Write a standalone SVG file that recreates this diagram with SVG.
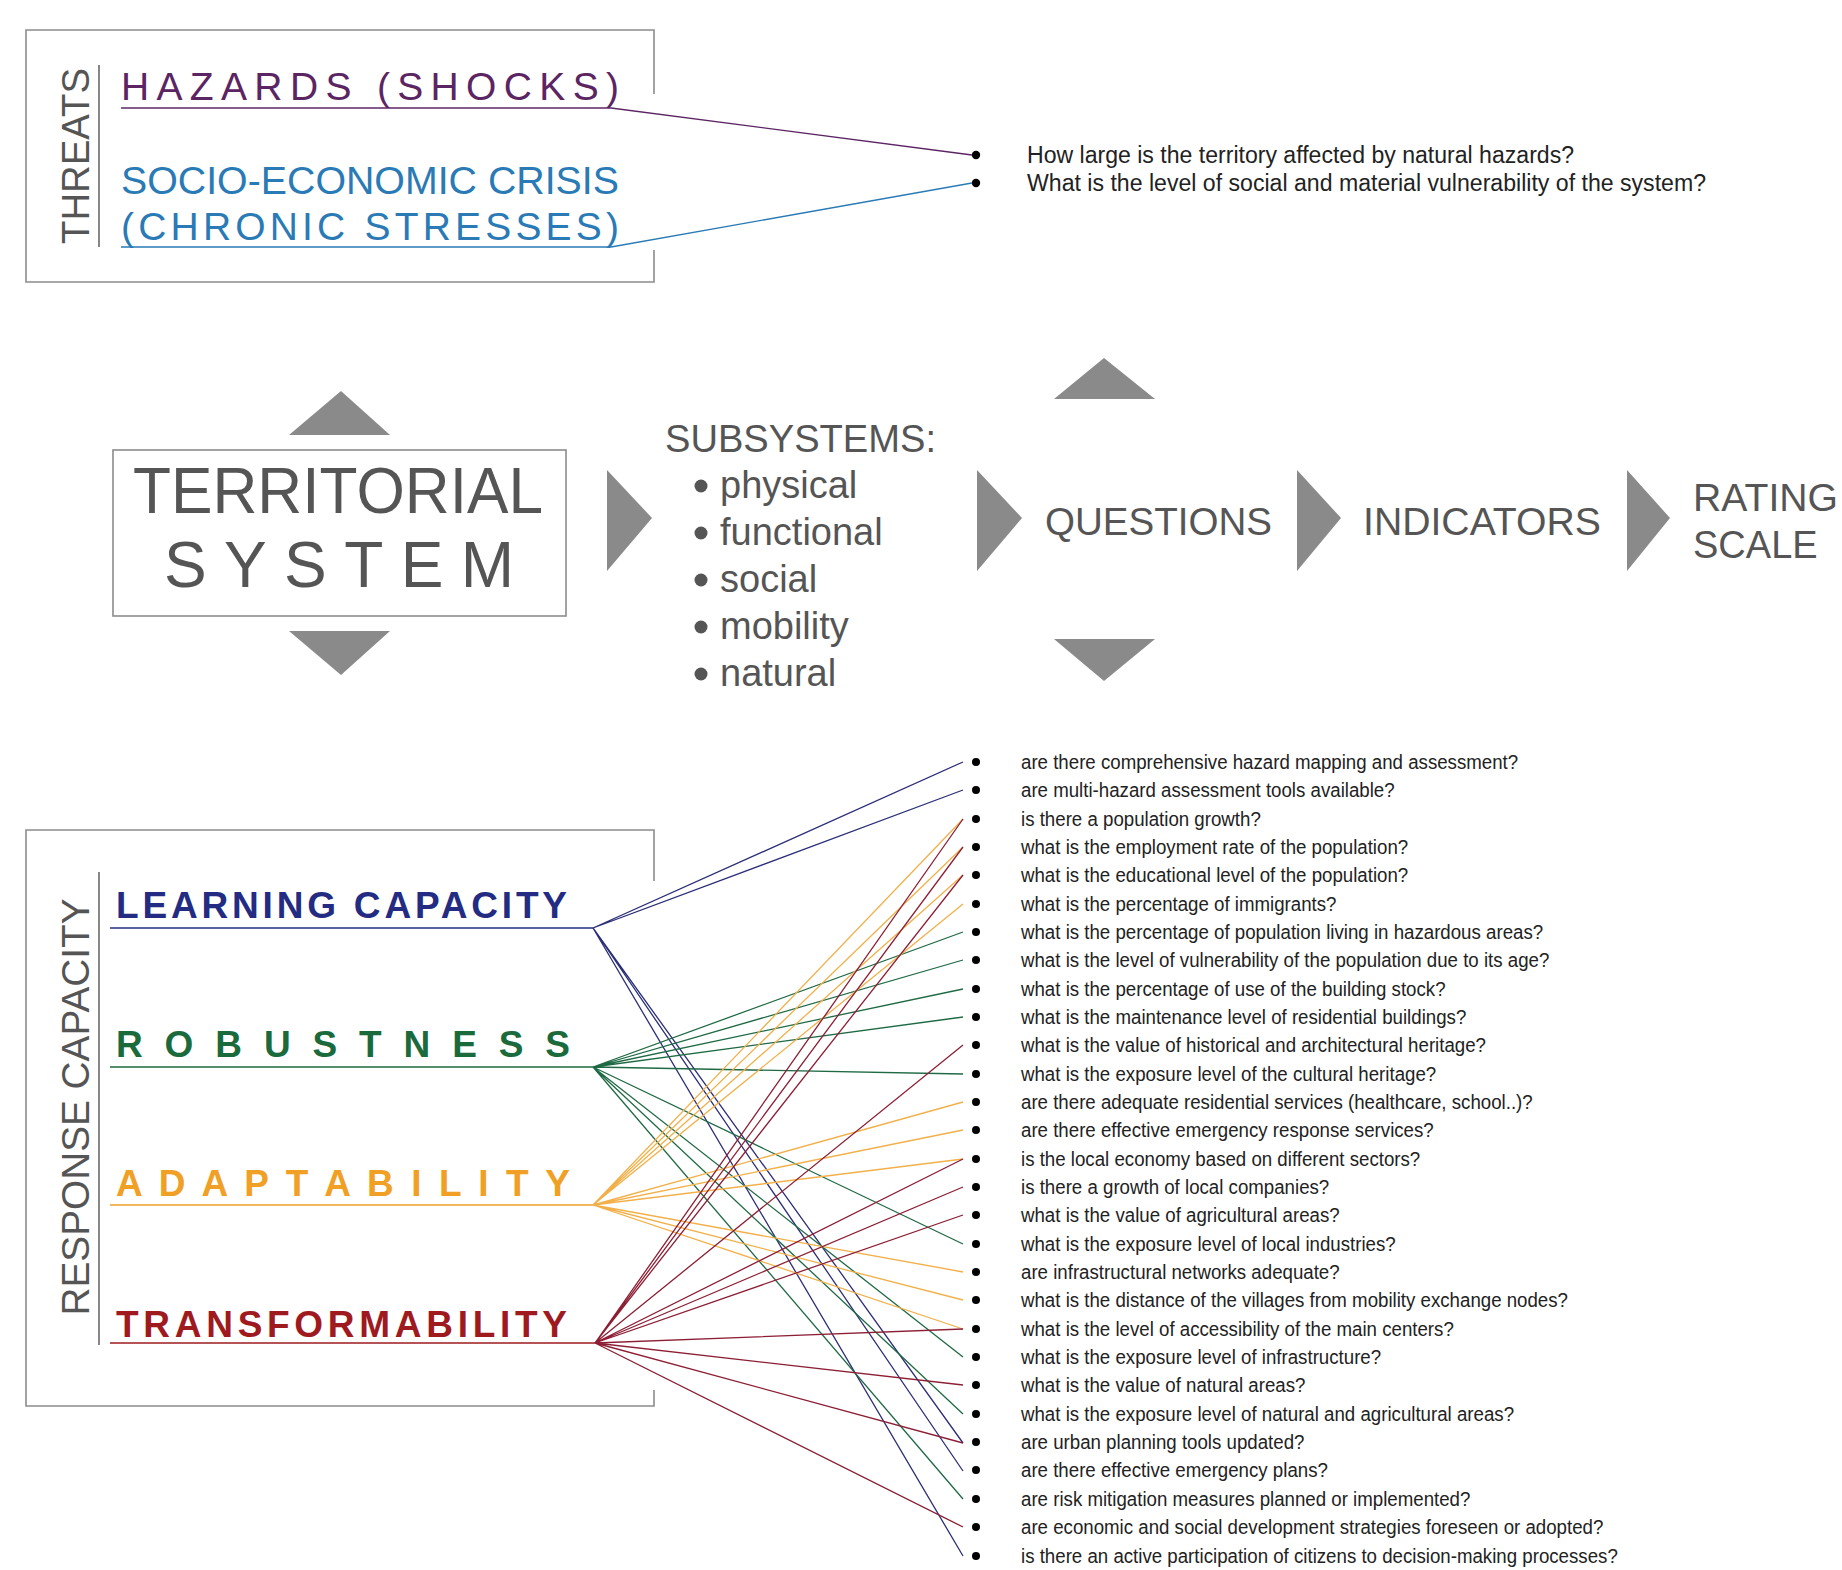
<svg xmlns="http://www.w3.org/2000/svg" width="1842" height="1570" viewBox="0 0 1842 1570">
<style>
.box{fill:none;stroke:#8c8c8c;stroke-width:1.6}
.sep{stroke:#555;stroke-width:1.4}
.tri{fill:#8a8a8a}
.gray{font-family:"Liberation Sans",Arial,sans-serif;fill:#555}
.big{font-family:"Liberation Sans",Arial,sans-serif;font-size:38px;fill:#555}
.q{font-family:"Liberation Sans",Arial,sans-serif;font-size:21px;fill:#222}
.tq{font-family:"Liberation Sans",Arial,sans-serif;font-size:23px;fill:#222}
.cap{font-family:"Liberation Sans",Arial,sans-serif;font-size:37px;font-weight:bold}
.dot{fill:#000}
.cL{stroke:#2c2f78;stroke-width:1.3;fill:none}
.cR{stroke:#1f6a45;stroke-width:1.3;fill:none}
.cA{stroke:#f2b04a;stroke-width:1.3;fill:none}
.cT{stroke:#8c1f35;stroke-width:1.3;fill:none}
</style>
<rect width="1842" height="1570" fill="#fff"/>

<g id="threats">
  <path class="box" d="M654,94 V30 H26 V282 H654 V250"/>
  <line class="sep" x1="99" y1="65" x2="99" y2="247"/>
  <text class="big" transform="translate(89,156) rotate(-90)" text-anchor="middle" textLength="176" lengthAdjust="spacingAndGlyphs">THREATS</text>
</g>
<g id="hazards">
  <text x="121" y="100" font-family="Liberation Sans,Arial,sans-serif" font-size="39" fill="#5b2463" textLength="498" lengthAdjust="spacing">HAZARDS (SHOCKS)</text>
  <line x1="121" y1="108" x2="611" y2="108" stroke="#5b2463" stroke-width="1.4"/>
</g>
<g id="socio">
  <text x="121" y="194" font-family="Liberation Sans,Arial,sans-serif" font-size="39" fill="#2a7ab6" textLength="498" lengthAdjust="spacingAndGlyphs">SOCIO-ECONOMIC CRISIS</text>
  <text x="121" y="240" font-family="Liberation Sans,Arial,sans-serif" font-size="39" fill="#2a7ab6" textLength="498" lengthAdjust="spacing">(CHRONIC STRESSES)</text>
  <line x1="121" y1="247" x2="611" y2="247" stroke="#2a7ab6" stroke-width="1.4"/>
</g>
<g id="threat-questions">
  <circle class="dot" cx="976" cy="155" r="4.2"/>
  <circle class="dot" cx="976" cy="183" r="4.2"/>
  <text class="tq" x="1027" y="163" textLength="547" lengthAdjust="spacingAndGlyphs">How large is the territory affected by natural hazards?</text>
  <text class="tq" x="1027" y="191" textLength="679" lengthAdjust="spacingAndGlyphs">What is the level of social and material vulnerability of the system?</text>
</g>

<g id="territorial-system">
  <polygon class="tri" points="289,435 341,391 390,435"/>
  <rect class="box" x="113" y="450" width="453" height="166"/>
  <text class="gray" x="133" y="513" font-size="64" textLength="410" lengthAdjust="spacingAndGlyphs">TERRITORIAL</text>
  <text class="gray" x="164" y="587" font-size="64" textLength="350" lengthAdjust="spacing">SYSTEM</text>
  <polygon class="tri" points="289,631 390,631 341,675"/>
</g>
<polygon class="tri" points="607,470 652,518 607,571"/>
<g id="subsystems">
  <text class="big" x="665" y="452" textLength="271" lengthAdjust="spacingAndGlyphs">SUBSYSTEMS:</text>
  <g fill="#555">
    <circle cx="701" cy="486" r="6.5"/>
    <circle cx="701" cy="533" r="6.5"/>
    <circle cx="701" cy="580" r="6.5"/>
    <circle cx="701" cy="627" r="6.5"/>
    <circle cx="701" cy="674" r="6.5"/>
  </g>
  <text class="big" x="720" y="498">physical</text>
  <text class="big" x="720" y="545">functional</text>
  <text class="big" x="720" y="592">social</text>
  <text class="big" x="720" y="639">mobility</text>
  <text class="big" x="720" y="686">natural</text>
</g>
<polygon class="tri" points="977,470 1022,518 977,571"/>
<g id="questions">
  <polygon class="tri" points="1054,399 1104,358 1155,399"/>
  <text class="big" x="1045" y="535" textLength="227" lengthAdjust="spacingAndGlyphs">QUESTIONS</text>
  <polygon class="tri" points="1054,639 1155,639 1104,681"/>
</g>
<polygon class="tri" points="1297,470 1341,518 1297,571"/>
<g id="indicators">
  <text class="big" x="1363" y="535" textLength="238" lengthAdjust="spacingAndGlyphs">INDICATORS</text>
</g>
<polygon class="tri" points="1627,470 1670,518 1627,571"/>
<g id="rating-scale">
  <text class="big" x="1693" y="511" textLength="145" lengthAdjust="spacingAndGlyphs">RATING</text>
  <text class="big" x="1693" y="558">SCALE</text>
</g>

<g id="response-capacity">
  <path class="box" d="M654,881 V830 H26 V1406 H654 V1390"/>
  <line class="sep" x1="99" y1="872" x2="99" y2="1345"/>
  <text class="big" transform="translate(89,1107) rotate(-90)" text-anchor="middle" textLength="417" lengthAdjust="spacingAndGlyphs">RESPONSE CAPACITY</text>
</g>
<g id="learning">
  <text class="cap" x="116" y="918" fill="#232c82" textLength="451" lengthAdjust="spacing">LEARNING CAPACITY</text>
  <line x1="110" y1="928" x2="593" y2="928" stroke="#232c82" stroke-width="1.4"/>
</g>
<g id="robustness">
  <text class="cap" x="116" y="1057" fill="#1a6a3c" textLength="454" lengthAdjust="spacing">R O B U S T N E S S</text>
  <line x1="110" y1="1067" x2="593" y2="1067" stroke="#1a6a3c" stroke-width="1.4"/>
</g>
<g id="adaptability">
  <text class="cap" x="116" y="1196" fill="#f0a024" textLength="454" lengthAdjust="spacing">A D A P T A B I L I T Y</text>
  <line x1="110" y1="1205" x2="593" y2="1205" stroke="#f0a024" stroke-width="1.4"/>
</g>
<g id="transformability">
  <text class="cap" x="116" y="1337" fill="#9e1a1e" textLength="451" lengthAdjust="spacing">TRANSFORMABILITY</text>
  <line x1="110" y1="1343" x2="595" y2="1343" stroke="#9e1a1e" stroke-width="1.4"/>
</g>

<g id="connectors">
  <path d="M611,108 L972,155" stroke="#5b2463" stroke-width="1.3" fill="none"/>
  <path d="M611,247 L972,183" stroke="#2a7ab6" stroke-width="1.3" fill="none"/>
  <path class="cL" d="M593,928 L963,762 M593,928 L963,790 M593,928 L963,1443 M593,928 L963,1471 M593,928 L963,1556"/>
  <path class="cR" d="M593,1067 L963,932 M593,1067 L963,960 M593,1067 L963,989 M593,1067 L963,1017 M593,1067 L963,1074 M593,1067 L963,1244 M593,1067 L963,1357 M593,1067 L963,1414 M593,1067 L963,1499"/>
  <path class="cA" d="M593,1205 L963,819 M593,1205 L963,847 M593,1205 L963,875 M593,1205 L963,904 M593,1205 L963,1102 M593,1205 L963,1130 M593,1205 L963,1159 M593,1205 L963,1272 M593,1205 L963,1300 M593,1205 L963,1329"/>
  <path class="cT" d="M595,1343 L963,819 M595,1343 L963,847 M595,1343 L963,875 M595,1343 L963,1045 M595,1343 L963,1159 M595,1343 L963,1187 M595,1343 L963,1215 M595,1343 L963,1329 M595,1343 L963,1385 M595,1343 L963,1443 M595,1343 L963,1527"/>
</g>

<g id="question-list">
  <g class="dot">
    <circle cx="976" cy="762" r="4"/><circle cx="976" cy="790" r="4"/><circle cx="976" cy="819" r="4"/><circle cx="976" cy="847" r="4"/><circle cx="976" cy="875" r="4"/><circle cx="976" cy="904" r="4"/><circle cx="976" cy="932" r="4"/><circle cx="976" cy="960" r="4"/><circle cx="976" cy="989" r="4"/><circle cx="976" cy="1017" r="4"/><circle cx="976" cy="1045" r="4"/><circle cx="976" cy="1074" r="4"/><circle cx="976" cy="1102" r="4"/><circle cx="976" cy="1130" r="4"/><circle cx="976" cy="1159" r="4"/><circle cx="976" cy="1187" r="4"/><circle cx="976" cy="1215" r="4"/><circle cx="976" cy="1244" r="4"/><circle cx="976" cy="1272" r="4"/><circle cx="976" cy="1300" r="4"/><circle cx="976" cy="1329" r="4"/><circle cx="976" cy="1357" r="4"/><circle cx="976" cy="1385" r="4"/><circle cx="976" cy="1414" r="4"/><circle cx="976" cy="1442" r="4"/><circle cx="976" cy="1470" r="4"/><circle cx="976" cy="1499" r="4"/><circle cx="976" cy="1527" r="4"/><circle cx="976" cy="1556" r="4"/>
  </g>
  <g transform="translate(1021,0) scale(0.89,1)">
    <text class="q" x="0" y="769">are there comprehensive hazard mapping and assessment?</text>
    <text class="q" x="0" y="797">are multi-hazard assessment tools available?</text>
    <text class="q" x="0" y="826">is there a population growth?</text>
    <text class="q" x="0" y="854">what is the employment rate of the population?</text>
    <text class="q" x="0" y="882">what is the educational level of the population?</text>
    <text class="q" x="0" y="911">what is the percentage of immigrants?</text>
    <text class="q" x="0" y="939">what is the percentage of population living in hazardous areas?</text>
    <text class="q" x="0" y="967">what is the level of vulnerability of the population due to its age?</text>
    <text class="q" x="0" y="996">what is the percentage of use of the building stock?</text>
    <text class="q" x="0" y="1024">what is the maintenance level of residential buildings?</text>
    <text class="q" x="0" y="1052">what is the value of historical and architectural heritage?</text>
    <text class="q" x="0" y="1081">what is the exposure level of the cultural heritage?</text>
    <text class="q" x="0" y="1109">are there adequate residential services (healthcare, school..)?</text>
    <text class="q" x="0" y="1137">are there effective emergency response services?</text>
    <text class="q" x="0" y="1166">is the local economy based on different sectors?</text>
    <text class="q" x="0" y="1194">is there a growth of local companies?</text>
    <text class="q" x="0" y="1222">what is the value of agricultural areas?</text>
    <text class="q" x="0" y="1251">what is the exposure level of local industries?</text>
    <text class="q" x="0" y="1279">are infrastructural networks adequate?</text>
    <text class="q" x="0" y="1307">what is the distance of the villages from mobility exchange nodes?</text>
    <text class="q" x="0" y="1336">what is the level of accessibility of the main centers?</text>
    <text class="q" x="0" y="1364">what is the exposure level of infrastructure?</text>
    <text class="q" x="0" y="1392">what is the value of natural areas?</text>
    <text class="q" x="0" y="1421">what is the exposure level of natural and agricultural areas?</text>
    <text class="q" x="0" y="1449">are urban planning tools updated?</text>
    <text class="q" x="0" y="1477">are there effective emergency plans?</text>
    <text class="q" x="0" y="1506">are risk mitigation measures planned or implemented?</text>
    <text class="q" x="0" y="1534">are economic and social development strategies foreseen or adopted?</text>
    <text class="q" x="0" y="1563">is there an active participation of citizens to decision-making processes?</text>
  </g>
</g>
</svg>
